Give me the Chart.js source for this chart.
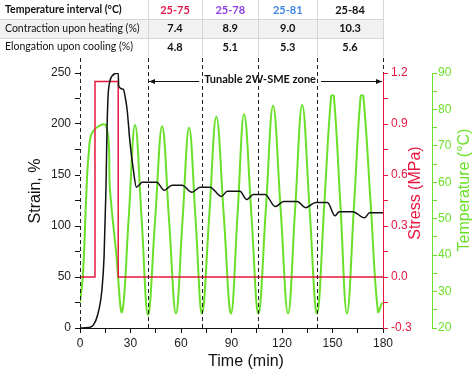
<!DOCTYPE html>
<html>
<head>
<meta charset="utf-8">
<script src="https://cdn.jsdelivr.net/npm/chart.js@4.4.0/dist/chart.umd.min.js"></script>
<style>
  html, body { margin: 0; padding: 0; background: #fff; }
</style>
</head>
<body>
<canvas id="myChart" width="474" height="373"></canvas>
<script>
// Data
var strainTime = [0, 5, 8, 10.5, 13, 14.3, 15.4, 16, 16.6, 17.5, 19, 22.7, 23, 25.7, 27, 28, 29.7, 31.7, 33.5, 35, 37, 45.5, 50, 54.7, 60.6, 66.5, 71.3, 77.2, 84, 87.5, 95, 99, 103, 110, 116, 121, 129, 134, 140, 147, 151.5, 154, 162, 169, 172, 180];
var strainVals = [0, 0.5, 3, 13, 37, 70, 135, 190, 225, 240, 247, 250, 237, 234, 225, 214, 182, 155, 138, 140, 143, 143, 135, 140, 140, 133, 138, 138, 129, 134, 134, 126, 131, 131, 119, 124, 124, 118, 123, 123, 110, 114, 114, 108, 113, 113];

var stressTime = [0, 8.9, 8.9, 22.7, 22.7, 180];
var stressVals = [0, 0, 1.15, 1.15, 0, 0];

var tempTime = [0, 1.8, 3.6, 5.2, 7.7, 15.5, 17.8, 21.4, 25, 28.9, 32.7, 36.6, 40.4, 44.6, 48.8, 52.9, 57, 60.9, 64.8, 68.7, 72.5, 76.8, 81, 85.4, 89.7, 93.6, 97.5, 101.8, 106, 110.4, 114.7, 119.2, 123.6, 127.8, 132, 136.4, 140.8, 145.1, 149.2, 150.8, 154.7, 158.6, 162.8, 166.7, 168.3, 172.7, 177, 179.5];
var tempVals = [27, 35, 55, 68, 74, 75.5, 58, 41, 24.4, 50, 75.7, 50, 23.6, 49.5, 75.4, 49.7, 24, 49.5, 75, 49.5, 24, 51, 78, 51, 24, 51.3, 78.7, 51.3, 24, 52.5, 81, 52.5, 24, 52.6, 81.2, 52.6, 24, 53.8, 83.7, 83.7, 53.8, 24, 53.8, 83.7, 83.7, 54, 24.5, 27];

// zone borders (min) and table
var zoneBounds = [0, 40.4, 72.5, 106, 140.8, 180];
var intervals = ["25-75", "25-78", "25-81", "25-84"];
var intervalColors = ["#e3194a", "#8b3fe4", "#3f86e4", "#111111"];
var contraction = ["7.4", "8.9", "9.0", "10.3"];
var elongation = ["4.8", "5.1", "5.3", "5.6"];
var rowLabels = ["Temperature interval (°C)", "Contraction upon heating (%)", "Elongation upon cooling (%)"];
var arrowLevel = 242;

var RED = "#e5173f";
var GREEN = "#6ae02a";
var AX_FONT = "'Liberation Sans', Arial, sans-serif";
var TBL_FONT = "Lato, 'Open Sans', sans-serif";

function pts(t, v) {
  return t.map(function (x, i) { return { x: x, y: v[i] }; });
}

var overlay = {
  id: "overlay",
  beforeDraw: function (chart) {
    var ctx = chart.ctx;
    var xs = chart.scales.x;
    var cols = zoneBounds.map(function (v) { return xs.getPixelForValue(v); });
    var rows = [0, 19, 38, 57];
    ctx.save();
    ctx.fillStyle = "#f1f1f1";
    ctx.fillRect(0, rows[1], cols[5], rows[2] - rows[1]);
    ctx.strokeStyle = "#d6d6d6";
    ctx.lineWidth = 1;
    ctx.beginPath();
    ctx.moveTo(0, rows[1] + 0.5); ctx.lineTo(cols[5], rows[1] + 0.5);
    ctx.moveTo(0, rows[2] + 0.5); ctx.lineTo(cols[5], rows[2] + 0.5);
    for (var i = 1; i < cols.length; i++) {
      ctx.moveTo(Math.round(cols[i]) + 0.5, 0);
      ctx.lineTo(Math.round(cols[i]) + 0.5, rows[3]);
    }
    ctx.stroke();

    ctx.textBaseline = "middle";
    ctx.textAlign = "left";
    ctx.fillStyle = "#111";
    ctx.font = "bold 10.5px " + TBL_FONT;
    ctx.fillText(rowLabels[0], 5, 10);
    ctx.font = "10.5px " + TBL_FONT;
    ctx.fillText(rowLabels[1], 5, 28.5);
    ctx.fillText(rowLabels[2], 5, 47);
    ctx.textAlign = "center";
    ctx.font = "bold 11px " + TBL_FONT;
    for (var j = 0; j < 4; j++) {
      var cx = (cols[j + 1] + cols[j + 2]) / 2;
      ctx.fillStyle = intervalColors[j];
      ctx.fillText(intervals[j], cx, 10);
      ctx.fillStyle = "#111";
      ctx.fillText(contraction[j], cx, 28.5);
      ctx.fillText(elongation[j], cx, 47);
    }
    ctx.restore();
  },
  afterDatasetsDraw: function (chart) {
    var ctx = chart.ctx;
    var xs = chart.scales.x;
    var ys = chart.scales.y;
    var area = chart.chartArea;
    ctx.save();
    // dashed zone borders
    ctx.strokeStyle = "#222";
    ctx.lineWidth = 1;
    ctx.setLineDash([4, 3]);
    ctx.beginPath();
    zoneBounds.forEach(function (v, i) {
      var px = Math.round(xs.getPixelForValue(v)) + 0.5;
      ctx.moveTo(px, 58);
      ctx.lineTo(px, i === zoneBounds.length - 1 ? area.top : area.bottom);
    });
    ctx.stroke();
    ctx.setLineDash([]);

    // arrow with label
    var y = Math.round(ys.getPixelForValue(arrowLevel)) + 0.5;
    var x0 = xs.getPixelForValue(zoneBounds[1]) + 1;
    var x1 = xs.getPixelForValue(zoneBounds[5]) - 1;
    var tx = xs.getPixelForValue(107);
    ctx.font = "bold 11px " + TBL_FONT;
    var tw = ctx.measureText("Tunable 2W-SME zone").width;
    ctx.strokeStyle = "#111";
    ctx.beginPath();
    ctx.moveTo(x0, y); ctx.lineTo(tx - tw / 2 - 5, y);
    ctx.moveTo(tx + tw / 2 + 5, y); ctx.lineTo(x1, y);
    ctx.stroke();
    ctx.fillStyle = "#111";
    ctx.beginPath();
    ctx.moveTo(x0, y); ctx.lineTo(x0 + 6, y - 2.5); ctx.lineTo(x0 + 6, y + 2.5); ctx.closePath();
    ctx.moveTo(x1, y); ctx.lineTo(x1 - 6, y - 2.5); ctx.lineTo(x1 - 6, y + 2.5); ctx.closePath();
    ctx.fill();
    ctx.textAlign = "center";
    ctx.textBaseline = "middle";
    ctx.fillText("Tunable 2W-SME zone", tx, y - 2);
    ctx.restore();
  },
  afterDraw: function (chart) {
    var ctx = chart.ctx;
    ctx.save();
    ctx.font = "16px " + AX_FONT;
    ctx.textAlign = "center";
    ctx.textBaseline = "middle";
    ctx.fillStyle = "#111";
    ctx.fillText("Time (min)", 246, 362);
    var vt = [["Strain, %", 36, 191, "#111"], ["Stress (MPa)", 416, 193, RED], ["Temperature (°C)", 465, 190, GREEN]];
    vt.forEach(function (t) {
      ctx.save();
      ctx.translate(t[1], t[2]);
      ctx.rotate(-Math.PI / 2);
      ctx.fillStyle = t[3];
      ctx.fillText(t[0], 0, 0);
      ctx.restore();
    });
    ctx.restore();
  }
};

var tickFont = { family: AX_FONT, size: 12 };

var ctx = document.getElementById("myChart").getContext("2d");
var myChart = new Chart(ctx, {
  type: "line",
  data: {
    datasets: [
      {
        label: "Strain",
        data: pts(strainTime, strainVals),
        yAxisID: "y",
        borderColor: "#111",
        borderWidth: 1.5,
        pointRadius: 0,
        cubicInterpolationMode: "monotone"
      },
      {
        label: "Stress",
        data: pts(stressTime, stressVals),
        yAxisID: "yS",
        borderColor: RED,
        borderWidth: 1.5,
        pointRadius: 0,
        tension: 0
      },
      {
        label: "Temperature",
        data: pts(tempTime, tempVals),
        yAxisID: "yT",
        borderColor: GREEN,
        borderWidth: 2,
        pointRadius: 0,
        tension: 0.4
      }
    ]
  },
  options: {
    responsive: false,
    animation: false,
    layout: { padding: { top: 73, left: 0, right: 0, bottom: 0 } },
    plugins: {
      legend: { display: false },
      tooltip: { enabled: false }
    },
    scales: {
      x: {
        type: "linear",
        min: 0,
        max: 180,
        afterFit: function (s) { s.height = 45; },
        border: { display: true, color: "#111", width: 1 },
        grid: { drawOnChartArea: false, tickLength: 5, color: "#111" },
        ticks: {
          stepSize: 15,
          autoSkip: false,
          maxRotation: 0,
          padding: 3,
          color: "#222",
          font: tickFont,
          callback: function (v) { return v % 30 === 0 ? v : ""; }
        }
      },
      y: {
        position: "left",
        min: 0,
        max: 250,
        afterFit: function (s) { s.width = 80; },
        border: { display: false },
        grid: { drawOnChartArea: false, tickLength: 5, color: "#111" },
        ticks: {
          stepSize: 25,
          autoSkip: false,
          padding: 4,
          color: "#222",
          font: tickFont,
          callback: function (v) { return v % 50 === 0 ? v : ""; }
        }
      },
      yS: {
        position: "right",
        weight: 0,
        min: -0.3,
        max: 1.2,
        afterFit: function (s) { s.width = 49; },
        border: { display: true, color: RED, width: 1 },
        grid: { drawOnChartArea: false, tickLength: 5, color: RED },
        ticks: {
          stepSize: 0.15,
          autoSkip: false,
          padding: 3,
          color: RED,
          font: tickFont,
          callback: function (v) {
            return Math.round((v + 0.3) / 0.15) % 2 === 0 ? v.toFixed(1) : "";
          }
        }
      },
      yT: {
        position: "right",
        weight: 1,
        min: 20,
        max: 90,
        afterFit: function (s) { s.width = 42; },
        border: { display: true, color: GREEN, width: 1 },
        grid: { drawOnChartArea: false, tickLength: 5, color: GREEN },
        ticks: {
          stepSize: 5,
          autoSkip: false,
          padding: 1,
          color: GREEN,
          font: tickFont,
          callback: function (v) { return v % 10 === 0 ? v : ""; }
        }
      }
    }
  },
  plugins: [overlay]
});
</script>
</body>
</html>
